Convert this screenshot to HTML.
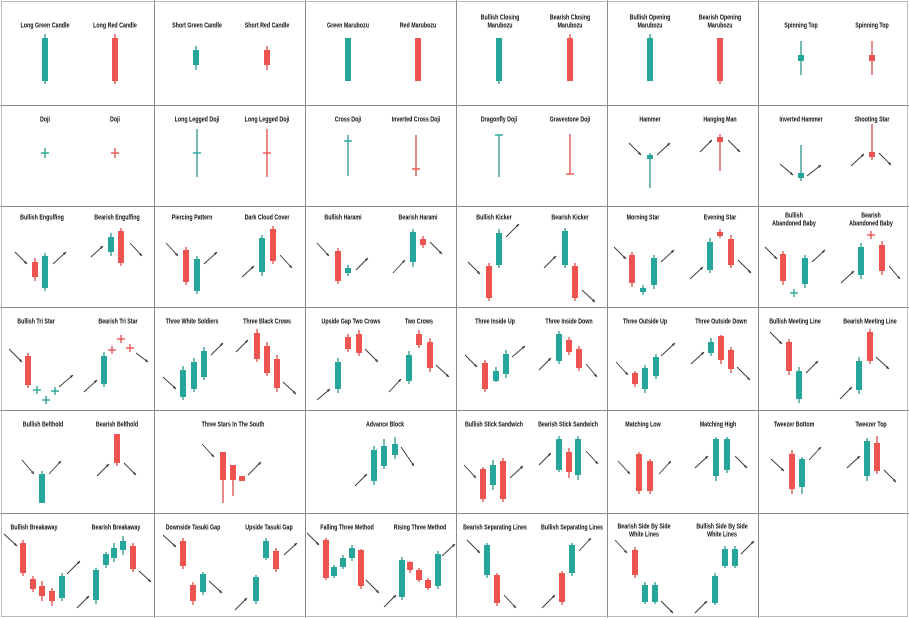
<!DOCTYPE html>
<html><head><meta charset="utf-8">
<style>
html,body{margin:0;padding:0;background:#fff;}
svg{display:block;}
text{font-family:"Liberation Sans",sans-serif;font-weight:bold;font-size:7px;fill:#111;}
</style></head>
<body>
<svg id="chart" width="909" height="618" viewBox="0 0 909 618" xmlns="http://www.w3.org/2000/svg"></svg>
<script>
// grid layout
const colLefts = [0,154,305,457,607,759];
const rowTops = [0,104,206,308,410,514];
const rowBottoms = [104,206,308,410,514,618];
const gridX = [154,305,456,607,758];
const gridY = [105,206,307,410,513];

// titles per cell: [row, col, lines, centerX, firstLineY]
const titles = [
[0,0,["Long Green Candle"],45,26],[0,0,["Long Red Candle"],115,26],
[0,1,["Short Green Candle"],43,26],[0,1,["Short Red Candle"],113,26],
[0,2,["Green Marubozu"],43,26],[0,2,["Red Marubozu"],113,26],
[0,3,["Bullish Closing","Marubozu"],43,18],[0,3,["Bearish Closing","Marubozu"],113,18],
[0,4,["Bullish Opening","Marubozu"],43,18],[0,4,["Bearish Opening","Marubozu"],113,18],
[0,5,["Spinning Top"],42,26],[0,5,["Spinning Top"],113,26],
[1,0,["Doji"],45,16],[1,0,["Doji"],115,16],
[1,1,["Long Legged Doji"],43,16],[1,1,["Long Legged Doji"],113,16],
[1,2,["Cross Doji"],43,16],[1,2,["Inverted Cross Doji"],111,16],
[1,3,["Dragonfly Doji"],42,16],[1,3,["Gravestone Doji"],113,16],
[1,4,["Hammer"],43,16],[1,4,["Hanging Man"],113,16],
[1,5,["Inverted Hammer"],42,16],[1,5,["Shooting Star"],113,16],
[2,0,["Bullish Engulfing"],42,12],[2,0,["Bearish Engulfing"],117,12],
[2,1,["Piercing Pattern"],38,12],[2,1,["Dark Cloud Cover"],113,12],
[2,2,["Bullish Harami"],38,12],[2,2,["Bearish Harami"],113,12],
[2,3,["Bullish Kicker"],37,12],[2,3,["Bearish Kicker"],113,12],
[2,4,["Morning Star"],36,12],[2,4,["Evening Star"],113,12],
[2,5,["Bullish","Abandoned Baby"],35,10],[2,5,["Bearish","Abandoned Baby"],112,10],
[3,0,["Bullish Tri Star"],36,14],[3,0,["Bearish Tri Star"],118,14],
[3,1,["Three White Soldiers"],38,14],[3,1,["Three Black Crows"],113,14],
[3,2,["Upside Gap Two Crows"],46,14],[3,2,["Two Crows"],114,14],
[3,3,["Three Inside Up"],38,14],[3,3,["Three Inside Down"],112,14],
[3,4,["Three Outside Up"],38,14],[3,4,["Three Outside Down"],114,14],
[3,5,["Bullish Meeting Line"],36,14],[3,5,["Bearish Meeting Line"],111,14],
[4,0,["Bullish Belthold"],43,15],[4,0,["Bearish Belthold"],117,15],
[4,1,["Three Stars In The South"],79,15],
[4,2,["Advance Block"],80,15],
[4,3,["Bullish Stick Sandwich"],37,15],[4,3,["Bearish Stick Sandwich"],111,15],
[4,4,["Matching Low"],36,15],[4,4,["Matching High"],111,15],
[4,5,["Tweezer Bottom"],35,15],[4,5,["Tweezer Top"],112,15],
[5,0,["Bullish Breakaway"],34,14],[5,0,["Bearish Breakaway"],116,14],
[5,1,["Downside Tasuki Gap"],39,14],[5,1,["Upside Tasuki Gap"],115,14],
[5,2,["Falling Three Method"],42,14],[5,2,["Rising Three Method"],115,14],
[5,3,["Bearish Separating Lines"],38,14],[5,3,["Bullish Separating Lines"],115,14],
[5,4,["Bearish Side By Side","White Lines"],37,13],[5,4,["Bullish Side By Side","White Lines"],115,13]
];

// candles: [row, col, slotX, open, high, low, close, color]
const candles = [
[0,0,45,23,70,20,66,"g"],[0,0,115,66,70,20,23,"r"],
[0,1,42,39,58,34,54,"g"],[0,1,113,54,58,34,39,"r"],
[0,2,43,23,66,23,66,"g"],[0,2,113,66,66,23,23,"r"],
[0,3,42,23,66,20,66,"g"],[0,3,113,66,70,23,23,"r"],
[0,4,43,23,70,23,66,"g"],[0,4,113,66,66,20,23,"r"],
[0,5,42,43,63,29,49,"g"],[0,5,113,49,63,29,43,"r"],
[1,0,45,53,58,48,53,"g"],[1,0,115,53,58,48,53,"r"],
[1,1,43,53,77,29,53,"g"],[1,1,113,53,77,29,53,"r"],
[1,2,43,65,71,30,65,"g"],[1,2,111,37,71,30,37,"r"],
[1,3,42,71,71,29,71,"g"],[1,3,113,32,72,32,32,"r"],
[1,4,43,47,53,18,51,"g"],[1,4,113,69,72,35,64,"r"],
[1,5,42,28,61,25,33,"g"],[1,5,113,54,82,46,49,"r"],
[2,0,35,46,50,27,31,"r"],[2,0,45,20,55,17,52,"g"],[2,0,111,56,75,52,71,"g"],[2,0,121,77,80,42,45,"r"],
[2,1,32,58,61,23,26,"r"],[2,1,43,17,52,14,49,"g"],[2,1,108,36,73,32,70,"g"],[2,1,119,79,82,44,47,"r"],
[2,2,33,57,60,24,27,"r"],[2,2,43,35,43,32,40,"g"],[2,2,108,46,79,41,76,"g"],[2,2,118,69,72,60,63,"r"],
[2,3,32,42,45,7,10,"r"],[2,3,42,43,79,40,75,"g"],[2,3,108,43,80,40,77,"g"],[2,3,118,42,45,7,10,"r"],
[2,4,25,53,56,21,25,"r"],[2,4,36,16,23,13,20,"g"],[2,4,47,23,53,19,50,"g"],[2,4,103,38,70,35,66,"g"],[2,4,113,76,79,70,72,"r"],[2,4,124,69,73,40,43,"r"],
[2,5,24,54,57,23,27,"r"],[2,5,35,15,19,11,15,"g"],[2,5,46,24,53,20,50,"g"],[2,5,102,33,65,29,61,"g"],[2,5,112,73,77,69,73,"r"],[2,5,123,63,67,33,37,"r"],
[3,0,28,54,57,22,25,"r"],[3,0,37,20,24,16,20,"g"],[3,0,46,10,14,6,10,"g"],[3,0,55,19,23,15,19,"g"],[3,0,104,26,58,23,54,"g"],[3,0,112,60,64,56,60,"r"],[3,0,121,71,75,67,71,"r"],[3,0,130,62,66,58,62,"r"],
[3,1,29,13,44,10,40,"g"],[3,1,40,21,52,18,48,"g"],[3,1,50,33,63,30,59,"g"],[3,1,103,77,81,48,51,"r"],[3,1,113,64,68,34,37,"r"],[3,1,123,51,55,18,22,"r"],
[3,2,33,21,52,17,48,"g"],[3,2,43,73,76,58,61,"r"],[3,2,54,76,80,54,57,"r"],[3,2,104,29,59,26,55,"g"],[3,2,114,76,80,62,65,"r"],[3,2,125,68,72,38,42,"r"],
[3,3,28,47,50,18,21,"r"],[3,3,39,29,43,28,39,"g"],[3,3,49,36,60,32,56,"g"],[3,3,102,49,79,46,76,"g"],[3,3,112,70,73,55,58,"r"],[3,3,122,61,64,39,42,"r"],
[3,4,28,37,39,23,26,"r"],[3,4,38,21,45,17,42,"g"],[3,4,49,34,56,31,53,"g"],[3,4,104,57,72,54,68,"g"],[3,4,114,74,75,46,50,"r"],[3,4,124,60,63,37,41,"r"],
[3,5,30,68,71,35,39,"r"],[3,5,40,11,43,7,39,"g"],[3,5,100,20,53,16,49,"g"],[3,5,111,78,81,46,49,"r"],
[4,0,42,11,43,11,40,"g"],[4,0,117,80,80,48,51,"r"],
[4,1,69,62,62,11,34,"r"],[4,1,79,49,49,18,34,"r"],[4,1,88,38,38,33,33,"r"],
[4,2,69,33,68,29,64,"g"],[4,2,79,48,75,45,68,"g"],[4,2,90,59,77,55,70,"g"],
[4,3,26,45,47,12,15,"r"],[4,3,36,29,54,24,49,"g"],[4,3,46,53,56,12,15,"r"],[4,3,102,44,78,42,75,"g"],[4,3,112,62,66,36,42,"r"],[4,3,121,39,78,34,75,"g"],
[4,4,32,60,62,20,23,"r"],[4,4,43,53,55,20,23,"r"],[4,4,109,38,77,33,75,"g"],[4,4,120,44,77,41,75,"g"],
[4,5,33,60,64,20,25,"r"],[4,5,43,27,57,20,55,"g"],[4,5,108,38,76,33,73,"g"],[4,5,118,71,78,40,43,"r"],
[5,0,23,75,78,42,45,"r"],[5,0,33,39,42,26,29,"r"],[5,0,42,32,37,17,22,"r"],[5,0,52,27,30,12,17,"r"],[5,0,62,20,45,17,42,"g"],
[5,0,96,18,50,14,48,"g"],[5,0,106,53,66,50,64,"g"],[5,0,114,60,75,56,70,"g"],[5,0,123,68,82,63,77,"g"],[5,0,133,72,75,46,49,"r"],
[5,1,29,77,80,49,52,"r"],[5,1,39,33,36,13,17,"r"],[5,1,49,26,46,23,44,"g"],[5,1,102,17,43,14,41,"g"],[5,1,112,60,80,58,77,"g"],[5,1,122,67,70,46,49,"r"],
[5,2,21,78,80,38,40,"r"],[5,2,29,42,53,40,51,"g"],[5,2,38,51,63,49,60,"g"],[5,2,47,60,73,57,70,"g"],[5,2,56,68,69,29,32,"r"],
[5,2,97,21,61,18,58,"g"],[5,2,105,56,57,45,48,"r"],[5,2,114,48,50,36,38,"r"],[5,2,123,38,40,28,30,"r"],[5,2,133,32,67,29,64,"g"],
[5,3,30,43,75,40,73,"g"],[5,3,40,43,45,12,15,"r"],[5,3,105,45,47,13,16,"r"],[5,3,115,45,75,42,73,"g"],
[5,4,28,68,71,40,43,"r"],[5,4,38,16,36,14,33,"g"],[5,4,48,16,36,14,33,"g"],[5,4,108,15,45,13,42,"g"],[5,4,118,52,72,50,69,"g"],[5,4,128,52,72,50,69,"g"]
];

// trend arrows: [row, col, x1, p1, x2, p2] (head at x2,p2)
const arrows = [
[1,4,22,63,34,51],[1,4,50,51,63,63],[1,4,93,54,105,66],[1,4,121,66,133,54],
[1,5,21,42,34,31],[1,5,48,30,62,41],[1,5,92,40,105,52],[1,5,120,53,132,41],
[2,0,15,56,27,44],[2,0,53,44,66,56],[2,0,91,51,103,62],[2,0,130,65,142,52],
[2,1,12,65,24,52],[2,1,50,44,63,56],[2,1,88,31,100,42],[2,1,126,53,138,40],
[2,2,12,65,24,52],[2,2,51,38,63,50],[2,2,88,35,100,48],[2,2,125,66,137,54],
[2,3,11,46,23,34],[2,3,49,71,62,84],[2,3,87,40,99,52],[2,3,125,18,138,6],
[2,4,7,61,19,49],[2,4,54,46,67,58],[2,4,83,29,96,41],[2,4,131,48,144,35],
[2,5,6,61,18,49],[2,5,53,46,66,58],[2,5,82,25,95,37],[2,5,130,42,141,29],
[3,0,9,61,22,48],[3,0,59,23,73,35],[3,0,84,18,97,30],[3,0,136,57,148,48],
[3,1,9,33,22,21],[3,1,57,55,69,67],[3,1,82,58,94,70],[3,1,129,28,142,16],
[3,2,12,10,25,21],[3,2,60,61,73,48],[3,2,84,18,96,31],[3,2,131,45,144,33],
[3,3,8,55,20,43],[3,3,55,53,68,64],[3,3,82,40,94,52],[3,3,129,46,140,33],
[3,4,9,48,21,35],[3,4,54,54,68,67],[3,4,84,46,97,58],[3,4,130,43,143,30],
[3,5,11,78,23,66],[3,5,47,37,59,49],[3,5,81,11,93,23],[3,5,117,53,130,41],
[4,0,22,54,34,40],[4,0,49,40,61,53],[4,0,97,38,109,50],[4,0,124,51,136,39],
[4,1,48,70,60,57],[4,1,94,39,107,52],
[4,2,50,28,62,40],[4,2,96,67,109,48],
[4,3,7,49,19,36],[4,3,53,36,66,48],[4,3,82,49,94,61],[4,3,129,63,141,50],
[4,4,11,53,23,40],[4,4,52,40,64,53],[4,4,88,46,101,58],[4,4,128,58,140,46],
[4,5,12,55,25,43],[4,5,50,54,62,67],[4,5,88,46,101,58],[4,5,125,44,137,32],
[5,0,4,84,17,72],[5,0,67,44,80,57],[5,0,77,10,89,22],[5,0,139,47,151,36],
[5,1,9,83,22,71],[5,1,55,37,68,25],[5,1,81,8,93,20],[5,1,130,63,143,75],
[5,2,2,85,14,73],[5,2,61,38,74,25],[5,2,79,11,91,23],[5,2,137,62,150,74],
[5,3,10,78,23,65],[5,3,47,23,59,10],[5,3,85,10,98,23],[5,3,122,67,134,80],
[5,4,8,78,20,65],[5,4,54,17,66,5],[5,4,88,5,100,17],[5,4,134,64,147,77]
];

const COLORS = {g:"#26a69a", r:"#ef5350"};
const WICKS = {g:"#1e8c81", r:"#d9403d"};
const NS = "http://www.w3.org/2000/svg";
const svg = document.getElementById("chart");

function xScale(row, col, v){ return colLefts[col] + v; }
function yScale(row, p){ return rowBottoms[row] - p; }
function mk(tag, attrs){
  const e = document.createElementNS(NS, tag);
  for (const k in attrs) e.setAttribute(k, attrs[k]);
  return e;
}

// background
const bg = mk("rect",{x:0,y:0,width:909,height:618,fill:"#fff"});


svg.appendChild(bg);

// grid
const gridG = mk("g",{stroke:"#8a8a8a","stroke-width":1});


svg.appendChild(gridG);
gridX.forEach(function(gx){
  const l = mk("line",{x1:gx+0.5,y1:0,x2:gx+0.5,y2:618});
  
  
  gridG.appendChild(l);
});
gridY.forEach(function(gy){
  const l = mk("line",{x1:0,y1:gy+0.5,x2:909,y2:gy+0.5});
  
  
  gridG.appendChild(l);
});
const frame = mk("rect",{x:1.5,y:1.5,width:906,height:615,fill:"none",stroke:"#bbb","stroke-width":1});


svg.appendChild(frame);

// titles
titles.forEach(function(t){
  const cx = xScale(t[0], t[1], t[3]);
  t[2].forEach(function(line, i){
    const y = rowTops[t[0]] + t[4] + i*8;
    const tx = mk("text",{"text-anchor":"middle","dominant-baseline":"central",
      transform:"translate("+cx+","+y+") scale(0.76,1)"});
    tx.textContent = line;
    
    
    svg.appendChild(tx);
  });
});

// candles
candles.forEach(function(c){
  const row=c[0], col=c[1];
  const x = xScale(row, col, c[2]);
  const o=c[3], h=c[4], lo=c[5], cl=c[6], k=c[7];
  const g = mk("g",{});
  
  
  const wick = mk("line",{x1:x,y1:yScale(row,h),x2:x,y2:yScale(row,lo),stroke:WICKS[k],"stroke-width":1.2});
  
  
  g.appendChild(wick);
  const top = Math.max(o,cl), bot = Math.min(o,cl);
  if (top - bot < 0.5) {
    const tick = mk("line",{x1:x-4,y1:yScale(row,o),x2:x+4,y2:yScale(row,o),stroke:COLORS[k],"stroke-width":1.4});
    
    
    g.appendChild(tick);
  } else {
    const body = mk("rect",{x:x-3,y:yScale(row,top),width:6,height:Math.max(1,top-bot),fill:COLORS[k]});
    
    
    g.appendChild(body);
  }
  svg.appendChild(g);
});

// arrows
arrows.forEach(function(a){
  const row=a[0], col=a[1];
  const x1=xScale(row,col,a[2]), y1=yScale(row,a[3]);
  const x2=xScale(row,col,a[4]), y2=yScale(row,a[5]);
  const g = mk("g",{});
  
  
  const ln = mk("line",{x1:x1,y1:y1,x2:x2,y2:y2,stroke:"#333","stroke-width":0.9});
  
  
  g.appendChild(ln);
  const ang = Math.atan2(y2-y1, x2-x1), L=3.2, w=0.45;
  const p1x = x2 - L*Math.cos(ang-w), p1y = y2 - L*Math.sin(ang-w);
  const p2x = x2 - L*Math.cos(ang+w), p2y = y2 - L*Math.sin(ang+w);
  const hd = mk("polygon",{points:x2+","+y2+" "+p1x+","+p1y+" "+p2x+","+p2y,fill:"#333"});
  
  
  g.appendChild(hd);
  svg.appendChild(g);
});
</script>
</body></html>
